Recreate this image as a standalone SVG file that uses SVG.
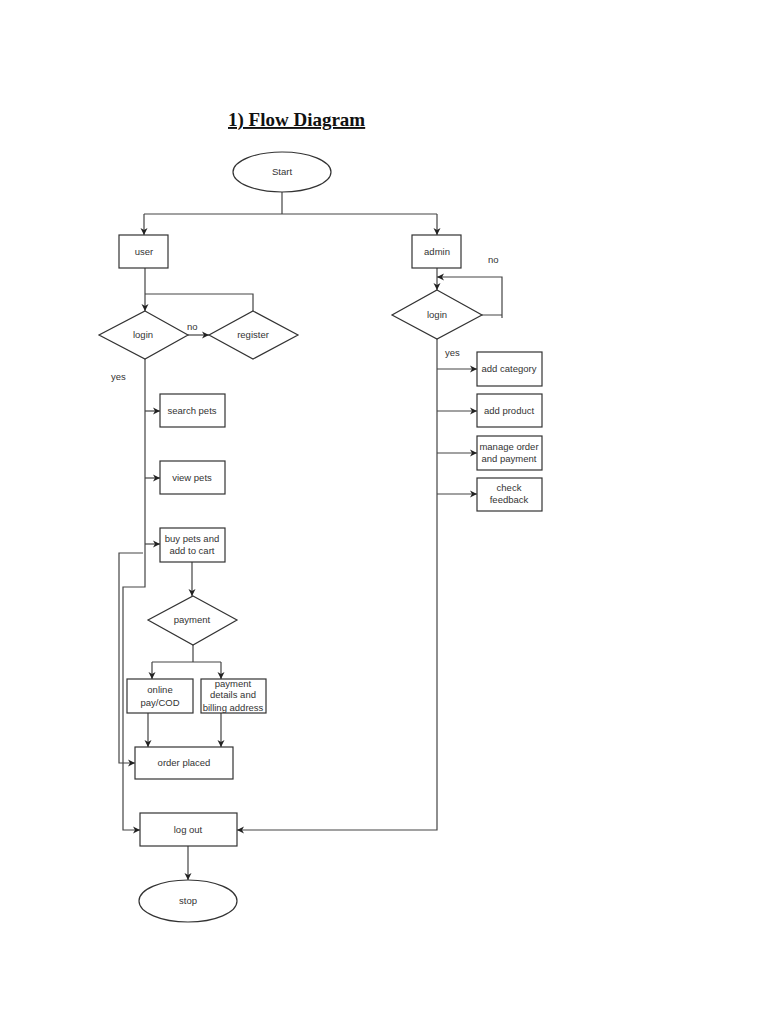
<svg xmlns="http://www.w3.org/2000/svg" width="768" height="1024" viewBox="0 0 768 1024">
<style>
.s{fill:#fff;stroke:#333;stroke-width:1.2}
.c{fill:none;stroke:#444;stroke-width:1.2}
text{font-family:"Liberation Sans",Arial,sans-serif;font-size:9.5px;fill:#333;text-anchor:middle}
.l{text-anchor:start}
</style>
<defs><marker id="a" markerWidth="8" markerHeight="8" refX="7" refY="4" orient="auto" markerUnits="userSpaceOnUse"><path d="M0,0.5 L7,4 L0,7.5 L2,4 Z" fill="#222"/></marker></defs>
<rect width="768" height="1024" fill="#fff"/>
<text x="228" y="126" class="l" style="font-family:'Liberation Serif',serif;font-size:19px;font-weight:bold;fill:#111;text-decoration:underline">1) Flow Diagram</text>
<g id="connectors" class="c">
<path d="M282,192 V214 M144,214 H437"/>
<path d="M144,214 V235" marker-end="url(#a)"/>
<path d="M437,214 V235" marker-end="url(#a)"/>
<path d="M145,268 V311" marker-end="url(#a)"/>
<path d="M145,294 H253 V311"/>
<path d="M188,335 H209" marker-end="url(#a)"/>
<path d="M145,359 V587 H123 V830 H140" marker-end="url(#a)"/>
<path d="M145,411 H160" marker-end="url(#a)"/>
<path d="M145,478 H160" marker-end="url(#a)"/>
<path d="M145,544 H160" marker-end="url(#a)"/>
<path d="M143,553 H119 V763 H135" marker-end="url(#a)"/>
<path d="M192,562 V596" marker-end="url(#a)"/>
<path d="M193,645 V662 M152,662 H221"/>
<path d="M152,662 V679" marker-end="url(#a)"/>
<path d="M221,662 V679" marker-end="url(#a)"/>
<path d="M148,713 V747" marker-end="url(#a)"/>
<path d="M221,713 V747" marker-end="url(#a)"/>
<path d="M188,846 V880" marker-end="url(#a)"/>
<path d="M437,268 V290" marker-end="url(#a)"/>
<path d="M482,315 H502 M502,318 V277 H437" marker-end="url(#a)"/>
<path d="M437,339 V830 H237" marker-end="url(#a)"/>
<path d="M437,369 H477" marker-end="url(#a)"/>
<path d="M437,411 H477" marker-end="url(#a)"/>
<path d="M437,453 H477" marker-end="url(#a)"/>
<path d="M437,494 H477" marker-end="url(#a)"/>
</g>
<text x="187" y="330" class="l">no</text>
<text x="111" y="380" class="l">yes</text>
<text x="488" y="263" class="l">no</text>
<text x="445" y="356" class="l">yes</text>
<g id="start"><ellipse class="s" cx="282" cy="172" rx="49" ry="20"/><text x="282" y="175">Start</text></g>
<g id="user"><rect class="s" x="119" y="235" width="49" height="33"/><text x="144" y="255">user</text></g>
<g id="admin"><rect class="s" x="412" y="235" width="49" height="33"/><text x="437" y="255">admin</text></g>
<g id="login1"><polygon class="s" points="145,311 188,335 145,359 99,335"/><text x="143" y="338">login</text></g>
<g id="register"><polygon class="s" points="253,311 298,335 253,359 209,335"/><text x="253" y="338">register</text></g>
<g id="login2"><polygon class="s" points="437,290 482,315 437,339 392,315"/><text x="437" y="318">login</text></g>
<g id="search"><rect class="s" x="160" y="394" width="65" height="33"/><text x="192" y="414">search pets</text></g>
<g id="view"><rect class="s" x="160" y="461" width="65" height="33"/><text x="192" y="481">view pets</text></g>
<g id="buy"><rect class="s" x="160" y="528" width="65" height="34"/><text x="192" y="542">buy pets and</text><text x="192" y="554">add to cart</text></g>
<g id="payment"><polygon class="s" points="193,596 237,620 193,645 148,620"/><text x="192" y="623">payment</text></g>
<g id="online"><rect class="s" x="127" y="679" width="66" height="34"/><text x="160" y="693">online</text><text x="160" y="706">pay/COD</text></g>
<g id="details"><rect class="s" x="201" y="679" width="65" height="34"/><text x="233" y="687">payment</text><text x="233" y="698">details and</text><text x="233" y="711">billing address</text></g>
<g id="order"><rect class="s" x="135" y="747" width="98" height="32"/><text x="184" y="766">order placed</text></g>
<g id="logout"><rect class="s" x="140" y="813" width="97" height="33"/><text x="188" y="833">log out</text></g>
<g id="stop"><ellipse class="s" cx="188" cy="901" rx="49" ry="21"/><text x="188" y="904">stop</text></g>
<g id="cat"><rect class="s" x="477" y="352" width="65" height="34"/><text x="509" y="372">add category</text></g>
<g id="prod"><rect class="s" x="477" y="394" width="65" height="33"/><text x="509" y="414">add product</text></g>
<g id="manage"><rect class="s" x="477" y="436" width="65" height="34"/><text x="509" y="450">manage order</text><text x="509" y="462">and payment</text></g>
<g id="feedback"><rect class="s" x="477" y="478" width="65" height="33"/><text x="509" y="491">check</text><text x="509" y="503">feedback</text></g>
</svg>
